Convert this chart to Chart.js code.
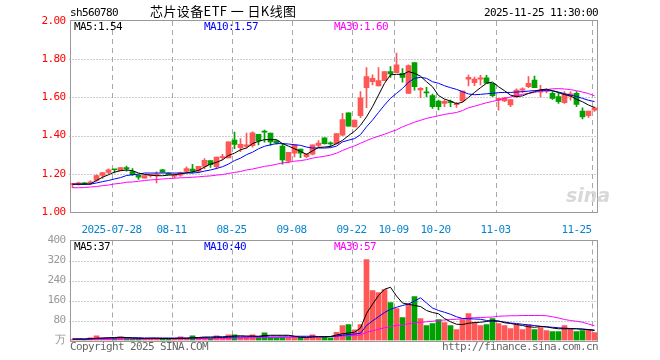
<!DOCTYPE html>
<html>
<head>
<meta charset="utf-8">
<script src="https://cdn.jsdelivr.net/npm/chart.js@4.4.1/dist/chart.umd.min.js"></script>
<style>
  body { margin: 0; background: #fff; width: 660px; height: 360px; position: relative; overflow: hidden; }
  canvas { position: absolute; left: 0; }
  #kline { top: 0; }
  #vol { top: 228px; }
  .t { position: absolute; font-family: "DejaVu Sans Mono", monospace; font-size: 11px; line-height: 11px; letter-spacing: -0.62px; white-space: nowrap; color: #000; }
  .title { position: absolute; left: 150px; top: 4px; font-family: "Noto Sans CJK SC", sans-serif; font-size: 13px; line-height: 13px; letter-spacing: 0.4px; white-space: nowrap; }
  .sina { position: absolute; left: 566px; top: 184px; font-family: "DejaVu Sans", sans-serif; font-weight: bold; font-style: italic; font-size: 19px; color: #d8d8d8; }
</style>
</head>
<body>
<canvas id="kline" width="660" height="240"></canvas>
<canvas id="vol" width="660" height="132"></canvas>

<div class="t" style="left:70px;top:7px">sh560780</div>
<div class="title">芯片设备ETF 一 日K线图</div>
<div class="t" style="left:484px;top:7px">2025-11-25 11:30:00</div>

<div class="t" style="left:74px;top:21px">MA5:1.54</div>
<div class="t" style="left:204px;top:21px;color:#0000ff">MA10:1.57</div>
<div class="t" style="left:334px;top:21px;color:#ff00ff">MA30:1.60</div>
<div class="sina">sina</div>

<div class="t" style="left:74px;top:241px">MA5:37</div>
<div class="t" style="left:204px;top:241px;color:#0000ff">MA10:40</div>
<div class="t" style="left:334px;top:241px;color:#ff00ff">MA30:57</div>

<div class="t" style="left:70px;top:341px;color:#666">Copyright 2025 SINA.COM</div>
<div class="t" style="left:442px;top:341px;color:#666">http://finance.sina.com.cn</div>

<script>
// trading days shown, 2025-07-17 .. 2025-11-25
const dates = [
  '07-17','07-18','07-21','07-22','07-23','07-24','07-25','07-28','07-29','07-30',
  '07-31','08-01','08-04','08-05','08-06','08-07','08-08','08-11','08-12','08-13',
  '08-14','08-15','08-18','08-19','08-20','08-21','08-22','08-25','08-26','08-27',
  '08-28','08-29','09-01','09-02','09-03','09-04','09-05','09-08','09-09','09-10',
  '09-11','09-12','09-15','09-16','09-17','09-18','09-19','09-22','09-23','09-24',
  '09-25','09-26','09-29','09-30','10-09','10-10','10-13','10-14','10-15','10-16',
  '10-17','10-20','10-21','10-22','10-23','10-24','10-27','10-28','10-29','10-30',
  '10-31','11-03','11-04','11-05','11-06','11-07','11-10','11-11','11-12','11-13',
  '11-14','11-17','11-18','11-19','11-20','11-21','11-24','11-25'
];

// dates that get a label and a dashed grid line (last label is kept inside the frame)
const tickDates = ['07-28','08-11','08-25','09-08','09-22','10-09','10-20','11-03','11-25'];
const tickTexts = ['2025-07-28','08-11','08-25','09-08','09-22','10-09','10-20','11-03','11-25     '];

const opens = [
  1.144,1.148,1.152,1.153,1.165,1.191,1.207,1.223,1.216,1.232,
  1.211,1.193,1.177,1.192,1.193,1.221,1.204,1.188,1.193,1.213,
  1.225,1.214,1.238,1.269,1.237,1.285,1.283,1.376,1.337,1.344,
  1.347,1.407,1.422,1.413,1.372,1.345,1.266,1.308,1.329,1.290,
  1.303,1.349,1.388,1.359,1.358,1.402,1.519,1.446,1.504,1.651,
  1.683,1.660,1.688,1.735,1.730,1.726,1.621,1.782,1.639,1.626,
  1.609,1.581,1.569,1.575,1.562,1.581,1.695,1.677,1.695,1.703,
  1.674,1.586,1.582,1.560,1.603,1.638,1.656,1.691,1.628,1.632,
  1.621,1.604,1.572,1.607,1.621,1.528,1.504,1.533
];
const highs = [
  1.150,1.157,1.154,1.163,1.195,1.207,1.226,1.223,1.232,1.240,
  1.227,1.193,1.191,1.196,1.210,1.223,1.205,1.200,1.209,1.236,
  1.250,1.239,1.280,1.269,1.287,1.302,1.367,1.418,1.384,1.413,
  1.420,1.407,1.429,1.413,1.375,1.358,1.312,1.352,1.329,1.305,
  1.352,1.374,1.388,1.367,1.410,1.516,1.519,1.481,1.630,1.756,
  1.718,1.756,1.735,1.761,1.832,1.751,1.770,1.782,1.651,1.653,
  1.618,1.586,1.586,1.586,1.574,1.633,1.717,1.707,1.716,1.716,
  1.674,1.595,1.600,1.589,1.645,1.650,1.709,1.711,1.663,1.645,
  1.630,1.624,1.630,1.630,1.630,1.545,1.528,1.551
];
const lows = [
  1.128,1.140,1.146,1.145,1.160,1.176,1.199,1.204,1.216,1.214,
  1.191,1.171,1.177,1.182,1.152,1.207,1.195,1.178,1.186,1.205,
  1.205,1.205,1.225,1.234,1.225,1.274,1.283,1.331,1.316,1.335,
  1.339,1.351,1.365,1.349,1.355,1.251,1.257,1.288,1.284,1.285,
  1.299,1.340,1.355,1.342,1.355,1.400,1.449,1.446,1.494,1.546,
  1.665,1.660,1.688,1.705,1.730,1.680,1.621,1.638,1.598,1.604,
  1.542,1.535,1.551,1.551,1.548,1.576,1.660,1.661,1.665,1.674,
  1.604,1.533,1.578,1.551,1.598,1.625,1.651,1.651,1.602,1.624,
  1.590,1.568,1.568,1.586,1.551,1.487,1.495,1.526
];
const closes = [
  1.147,1.152,1.148,1.158,1.191,1.207,1.221,1.221,1.232,1.226,
  1.196,1.182,1.191,1.195,1.196,1.209,1.197,1.196,1.205,1.227,
  1.214,1.239,1.270,1.248,1.287,1.288,1.367,1.354,1.354,1.352,
  1.415,1.372,1.418,1.367,1.362,1.273,1.312,1.352,1.308,1.303,
  1.352,1.361,1.358,1.357,1.410,1.484,1.449,1.481,1.598,1.709,
  1.700,1.688,1.735,1.723,1.770,1.705,1.767,1.656,1.647,1.624,
  1.551,1.551,1.580,1.573,1.566,1.633,1.705,1.696,1.703,1.674,
  1.609,1.595,1.598,1.589,1.638,1.645,1.674,1.651,1.640,1.637,
  1.595,1.577,1.616,1.619,1.563,1.498,1.528,1.545
];

// price moving averages as drawn
const ma5 = [
  1.146,1.146,1.146,1.147,1.165,1.182,1.195,1.209,1.216,1.220,
  1.216,1.204,1.197,1.193,1.190,1.190,1.193,1.195,1.200,1.205,
  1.210,1.218,1.235,1.251,1.260,1.273,1.296,1.308,1.326,1.335,
  1.358,1.370,1.379,1.379,1.379,1.358,1.345,1.331,1.317,1.302,
  1.320,1.338,1.340,1.343,1.358,1.375,1.400,1.423,1.454,1.498,
  1.551,1.612,1.674,1.718,1.721,1.720,1.735,1.726,1.711,1.682,
  1.656,1.610,1.591,1.581,1.567,1.575,1.600,1.626,1.651,1.674,
  1.680,1.656,1.635,1.612,1.604,1.608,1.621,1.630,1.640,1.643,
  1.635,1.625,1.615,1.607,1.590,1.577,1.560,1.547
];
const ma10 = [
  1.145,1.145,1.145,1.146,1.152,1.159,1.165,1.173,1.180,1.191,
  1.195,1.198,1.204,1.204,1.204,1.204,1.204,1.204,1.204,1.204,
  1.204,1.207,1.214,1.220,1.228,1.237,1.251,1.269,1.282,1.300,
  1.313,1.331,1.344,1.352,1.358,1.358,1.356,1.352,1.349,1.340,
  1.335,1.335,1.335,1.337,1.345,1.367,1.376,1.384,1.405,1.446,
  1.481,1.521,1.560,1.595,1.621,1.647,1.679,1.700,1.705,1.700,
  1.682,1.674,1.661,1.651,1.642,1.630,1.618,1.614,1.616,1.619,
  1.621,1.625,1.626,1.626,1.628,1.630,1.633,1.636,1.635,1.635,
  1.635,1.628,1.620,1.612,1.605,1.595,1.585,1.578
];
const ma30 = [
  1.127,1.127,1.128,1.131,1.133,1.138,1.141,1.147,1.150,1.156,
  1.157,1.161,1.165,1.168,1.170,1.173,1.175,1.177,1.179,1.180,
  1.182,1.184,1.187,1.189,1.193,1.196,1.202,1.207,1.212,1.220,
  1.225,1.232,1.239,1.243,1.250,1.257,1.260,1.266,1.269,1.274,
  1.282,1.287,1.292,1.298,1.308,1.322,1.335,1.346,1.360,1.374,
  1.386,1.397,1.407,1.419,1.430,1.446,1.458,1.470,1.480,1.490,
  1.497,1.504,1.511,1.516,1.521,1.531,1.546,1.554,1.563,1.572,
  1.579,1.586,1.595,1.602,1.610,1.616,1.621,1.626,1.634,1.641,
  1.645,1.646,1.644,1.641,1.635,1.628,1.620,1.608
];

// volume, 万手
const volumes = [
  4,7,5,11,19,9,9,9,15,9,
  8,8,8,8,9,7,7,7,15,9,
  19,13,13,9,19,13,23,23,13,13,
  23,13,31,13,13,13,13,13,13,10,
  23,13,13,11,33,60,64,43,64,324,
  200,192,204,152,128,92,147,176,88,60,
  68,84,72,60,44,84,108,72,60,64,
  88,68,60,48,64,44,64,44,52,40,
  36,36,60,48,36,40,44,32
];
const volMa5 = [
  6,6,6,7,9,10,11,12,13,12,
  10,9,8,9,9,8,8,8,9,9,
  11,12,14,14,15,15,16,18,19,18,
  18,17,20,21,21,21,21,17,13,12,
  14,15,15,16,22,27,30,33,50,108,
  145,180,205,213,178,150,145,140,136,120,
  112,107,88,75,65,64,69,72,73,76,
  80,78,71,68,64,60,55,53,56,55,
  50,47,47,47,47,45,43,40
];
const volMa10 = [
  6,6,6,7,8,9,10,10,11,11,
  11,11,10,10,10,10,10,10,10,10,
  10,10,11,11,12,12,13,14,15,15,
  16,16,17,18,18,18,18,17,17,17,
  17,16,15,16,18,21,24,26,29,60,
  78,95,112,125,133,140,146,158,171,150,
  130,120,113,105,95,88,87,86,85,80,
  77,77,74,70,68,65,62,60,57,54,
  53,51,49,48,47,46,44,42
];
const volMa30 = [
  4,4,4,4,5,5,5,5,6,6,
  6,6,6,6,7,7,7,7,7,7,
  8,8,8,8,9,9,9,10,10,10,
  11,11,12,12,12,13,13,13,14,14,
  14,15,15,16,17,18,19,20,22,33,
  39,45,51,56,60,63,67,70,73,75,
  77,80,82,84,85,87,90,91,92,93,
  94,97,98,99,99,100,100,100,100,99,
  95,90,84,80,77,73,66,59
];

const RED = '#ff5656';
const GREEN = '#00a000';
const candleColors = closes.map((c, i) => c >= opens[i] ? RED : GREEN);
const monoFont = { family: 'DejaVu Sans Mono', size: 11 };

// frame, dashed date lines and dotted value lines, taken from the chart's own scales
const framePlugin = {
  id: 'frame',
  beforeDraw(chart) {
    chart.ctx.letterSpacing = '-0.6px';
  },
  beforeDatasetsDraw(chart) {
    const a = chart.chartArea;
    const ctx = chart.ctx;
    const xs = chart.scales.x;
    const ys = chart.scales.y;
    const half = (xs.getPixelForValue(1) - xs.getPixelForValue(0)) / 2;
    ctx.save();
    ctx.lineWidth = 1;

    // vertical dashed lines on the slot edge of each labelled date
    ctx.strokeStyle = '#a8a8a8';
    ctx.setLineDash([5, 4]);
    ctx.beginPath();
    dates.forEach((d, i) => {
      if (!tickDates.includes(d)) return;
      const x = Math.round(xs.getPixelForValue(i) - half) + 0.5;
      ctx.moveTo(x, a.top);
      ctx.lineTo(x, a.bottom);
    });
    ctx.stroke();

    // horizontal dotted lines
    ctx.strokeStyle = '#999';
    ctx.setLineDash([1, 2]);
    ctx.beginPath();
    ys.ticks.forEach(t => {
      if (t.value <= ys.min || t.value >= ys.max) return;
      const y = Math.round(ys.getPixelForValue(t.value)) + 0.5;
      ctx.moveTo(a.left, y);
      ctx.lineTo(a.right, y);
    });
    ctx.stroke();

    // frame
    ctx.setLineDash([]);
    ctx.strokeStyle = '#999';
    const l = Math.round(a.left) + 0.5;
    const t = Math.round(a.top) - 0.5;
    const r = Math.round(a.right - 1) + 0.5;
    const b = Math.round(a.bottom) + 0.5;
    ctx.strokeRect(l, t, r - l, b - t);
    ctx.restore();
  }
};

function xScale(showTicks) {
  return {
    type: 'category',
    offset: true,
    grid: { display: false },
    border: { display: false },
    ticks: {
      display: showTicks,
      autoSkip: false,
      maxRotation: 0,
      padding: 4,
      labelOffset: -3,
      color: '#0a84cc',
      font: monoFont,
      callback: (v, i) => {
        const j = tickDates.indexOf(dates[i]);
        return j >= 0 ? tickTexts[j] : '';
      }
    },
    afterFit: s => { s.height = showTicks ? 28 : 0; }
  };
}

function lineSet(data, color) {
  return { type: 'line', data, borderColor: color, borderWidth: 1, pointRadius: 0, tension: 0 };
}

new Chart(document.getElementById('kline'), {
  data: {
    labels: dates,
    datasets: [
      lineSet(ma5, '#000'),
      lineSet(ma10, '#0000ff'),
      lineSet(ma30, '#ff00ff'),
      {
        type: 'bar', grouped: false, barThickness: 5, minBarLength: 1,
        data: opens.map((o, i) => [o, closes[i]]),
        backgroundColor: candleColors
      },
      {
        type: 'bar', grouped: false, barThickness: 1,
        data: lows.map((l, i) => [l, highs[i]]),
        backgroundColor: candleColors
      }
    ]
  },
  options: {
    responsive: false,
    animation: false,
    layout: { padding: { top: 21, right: 62.5, bottom: 0, left: 0 } },
    plugins: { legend: { display: false }, tooltip: { enabled: false } },
    scales: {
      x: xScale(true),
      y: {
        min: 1, max: 2,
        grid: { display: false, drawTicks: false },
        border: { display: false },
        ticks: {
          stepSize: 0.2, padding: 4, color: '#ff0000', font: monoFont,
          callback: v => v.toFixed(2)
        },
        afterFit: s => { s.width = 69.5; }
      }
    }
  },
  plugins: [framePlugin]
});

new Chart(document.getElementById('vol'), {
  data: {
    labels: dates,
    datasets: [
      lineSet(volMa5, '#000'),
      lineSet(volMa10, '#0000ff'),
      lineSet(volMa30, '#ff00ff'),
      { type: 'bar', barThickness: 5, data: volumes, backgroundColor: candleColors }
    ]
  },
  options: {
    responsive: false,
    animation: false,
    layout: { padding: { top: 12.5, right: 62.5, bottom: 19.5, left: 0 } },
    plugins: { legend: { display: false }, tooltip: { enabled: false } },
    scales: {
      x: xScale(false),
      y: {
        min: 0, max: 400,
        grid: { display: false, drawTicks: false },
        border: { display: false },
        ticks: {
          stepSize: 80, padding: 4, color: '#999', font: monoFont,
          callback: v => v === 0 ? '万' : v
        },
        afterFit: s => { s.width = 69.5; }
      }
    }
  },
  plugins: [framePlugin]
});
</script>
</body>
</html>
